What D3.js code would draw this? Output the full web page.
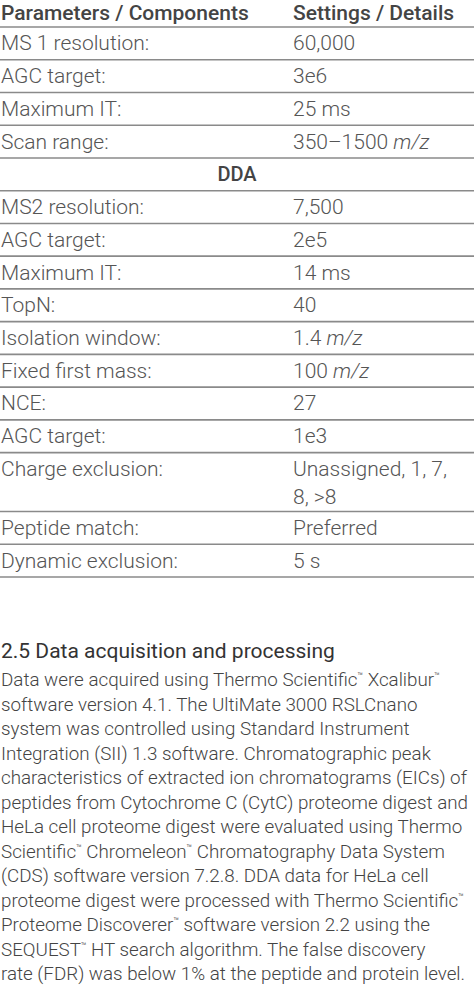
<!DOCTYPE html>
<html><head><meta charset="utf-8">
<script src="https://cdn.jsdelivr.net/npm/d3@7"></script>
<style>body{margin:0;background:#fff}</style>
</head><body><div id="tabla"></div>
<script>
var encabezados = ["Parameters / Components", "Settings / Details"];
var parametros = ["MS 1 resolution:", "AGC target:", "Maximum IT:", "Scan range:", "DDA",
  "MS2 resolution:", "AGC target:", "Maximum IT:", "TopN:", "Isolation window:", "Fixed first mass:",
  "NCE:", "AGC target:", "Charge exclusion:", "Peptide match:", "Dynamic exclusion:"];
var valores = [["60,000"], ["3e6"], ["25 ms"], ["350–1500 *m/z*"], [""],
  ["7,500"], ["2e5"], ["14 ms"], ["40"], ["1.4 *m/z*"], ["100 *m/z*"],
  ["27"], ["1e3"], ["Unassigned, 1, 7,", "8, >8"], ["Preferred"], ["5 s"]];
var titulo = "2.5 Data acquisition and processing";
var parrafo = [
  "Data were acquired using Thermo Scientific^ Xcalibur^",
  "software version 4.1. The UltiMate 3000 RSLCnano",
  "system was controlled using Standard Instrument",
  "Integration (SII) 1.3 software. Chromatographic peak",
  "characteristics of extracted ion chromatograms (EICs) of",
  "peptides from Cytochrome C (CytC) proteome digest and",
  "HeLa cell proteome digest were evaluated using Thermo",
  "Scientific^ Chromeleon^ Chromatography Data System",
  "(CDS) software version 7.2.8. DDA data for HeLa cell",
  "proteome digest were processed with Thermo Scientific^",
  "Proteome Discoverer^ software version 2.2 using the",
  "SEQUEST^ HT search algorithm. The false discovery",
  "rate (FDR) was below 1% at the peptide and protein level."];

var ancho = 474, alto = 1000;
var svg = d3.select("#tabla").append("svg").attr("width", ancho).attr("height", alto)
  .style("font-family", "Roboto, 'Liberation Sans', sans-serif");

// filas: unidades de altura (la de carga ocupa casi dos)
var unidades = valores.map(function (v) { return v.length > 1 ? 1.8 : 1; });
var acum = [0];
unidades.forEach(function (u, i) { acum.push(acum[i] + u); });
var y = d3.scaleLinear().domain([0, acum[acum.length - 1]]).range([27, 577]);
var colX = d3.scaleOrdinal().domain([0, 1]).range([1, 293]);

// encabezado
svg.selectAll(".enc").data(encabezados).enter().append("text")
  .attr("x", function (d, i) { return colX(i); }).attr("y", 20)
  .style("font-size", "21px").style("font-weight", 500).style("fill", "#444")
  .text(function (d) { return d; });

// lineas
svg.selectAll(".linea").data(acum).enter().append("line")
  .attr("x1", 0).attr("x2", ancho)
  .attr("y1", function (d) { return y(d); }).attr("y2", function (d) { return y(d); })
  .style("stroke", "#8a8a8a").style("stroke-width", 1.6);

function conCursiva(sel, txt) {
  txt.split("*").forEach(function (p, k) {
    if (p) sel.append("tspan").style("font-style", k % 2 ? "italic" : "normal").text(p);
  });
}

parametros.forEach(function (p, i) {
  var y0 = y(acum[i]) + (y(acum[i] + 1) - y(acum[i])) / 2 + 7;
  if (p === "DDA") {
    svg.append("text").attr("x", 237).attr("y", y0).attr("text-anchor", "middle")
      .style("font-size", "20px").style("font-weight", 500).style("fill", "#444").text(p);
    return;
  }
  svg.append("text").attr("x", colX(0)).attr("y", y0)
    .style("font-size", "21px").style("font-weight", 300).style("fill", "#555").text(p);
  valores[i].forEach(function (v, j) {
    var t = svg.append("text").attr("x", colX(1)).attr("y", y0 + j * 28)
      .style("font-size", "21px").style("font-weight", 300).style("fill", "#555");
    conCursiva(t, v);
  });
});

// texto inferior
svg.append("text").attr("x", 1).attr("y", 658)
  .style("font-size", "21px").style("font-weight", 400).style("fill", "#333").text(titulo);
var yl = d3.scaleLinear().domain([0, parrafo.length - 1]).range([686, 980]);
parrafo.forEach(function (l, i) {
  var t = svg.append("text").attr("x", 1).attr("y", yl(i))
    .style("font-size", "18.8px").style("font-weight", 300).style("fill", "#444");
  var partes = l.split("^");
  partes.forEach(function (p, k) {
    var s = t.append("tspan").text(p || " ");
    if (k > 0) s.attr("dy", 7);
    if (k < partes.length - 1) t.append("tspan").attr("dy", -7).style("font-size", "9px").text("™");
  });
});
</script>
</body></html>
